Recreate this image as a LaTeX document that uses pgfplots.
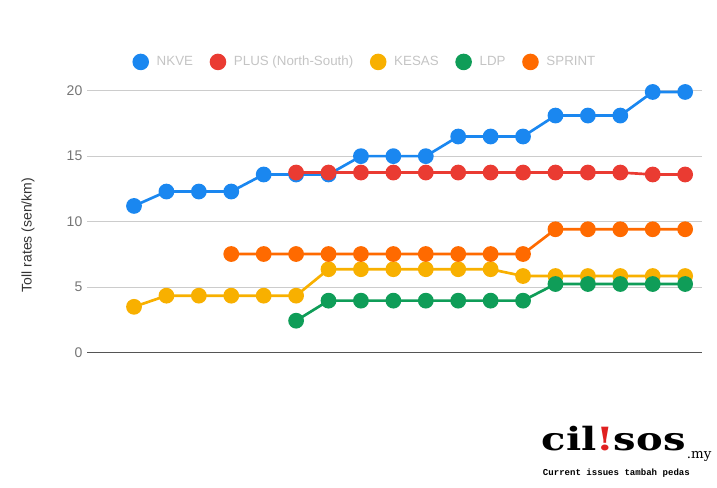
\documentclass[border=0pt]{standalone}
\usepackage{fontspec}
\setmainfont{Liberation Sans}
\newfontfamily\logofont{DejaVu Serif}
\newfontfamily\tagfont{Liberation Mono}
\usepackage{pgfplots}
\pgfplotsset{compat=1.18}
\definecolor{cBlue}{HTML}{1A87F0}
\definecolor{cRed}{HTML}{EA3B32}
\definecolor{cYellow}{HTML}{F8B000}
\definecolor{cGreen}{HTML}{0F9D58}
\definecolor{cOrange}{HTML}{FF6A00}
\definecolor{gridc}{HTML}{CCCCCC}
\definecolor{zeroc}{HTML}{555555}
\definecolor{tickc}{HTML}{757575}
\definecolor{labelc}{HTML}{333333}
\definecolor{legc}{HTML}{C4C4C4}
\definecolor{logoRed}{HTML}{E02020}
\begin{document}
\begin{tikzpicture}
\path[use as bounding box] (0,0) rectangle (537.75pt,366pt);
\begin{axis}[
  at={(65.25pt,101.5pt)}, anchor=south west,
  scale only axis, width=461.25pt, height=196.5pt,
  xmin=-1.45, xmax=17.52, ymin=0, ymax=20,
  clip=false,
  axis line style={draw=none},
  xtick=\empty,
  ytick={5,10,15,20},
  extra y ticks={0},
  extra y tick style={grid style={color=zeroc, line width=1pt}},
  ymajorgrids, grid style={color=gridc, line width=0.8pt},
  major tick length=0pt,
  tick label style={font=\fontsize{10.5}{12}\selectfont, text=tickc},
  /pgf/number format/assume math mode=true,
  ylabel={Toll rates (sen/km)},
  ylabel style={at={(axis description cs:-0.096,0.449)}, anchor=center, font=\fontsize{10.5}{12}\selectfont, text=labelc},
  every axis plot/.append style={line width=2pt, mark=*, mark size=4.9pt},
  legend columns=-1,
  legend style={at={(axis description cs:0.0735,1.1096)}, anchor=west, draw=none, fill=none,
    font=\fontsize{10}{12}\selectfont, text=legc, inner xsep=0pt,
    /tikz/every even column/.append style={column sep=10.5pt}},
  legend image code/.code={\fill[#1] (3pt,0pt) circle (5.2pt); \path (12pt,0pt);},
]
\addplot[color=cBlue] coordinates {(0,11.2)(1,12.3)(2,12.3)(3,12.3)(4,13.6)(5,13.6)(6,13.6)(7,15)(8,15)(9,15)(10,16.5)(11,16.5)(12,16.5)(13,18.1)(14,18.1)(15,18.1)(16,19.9)(17,19.9)};
\addlegendentry{NKVE}
\addplot[color=cRed] coordinates {(5,13.75)(6,13.75)(7,13.75)(8,13.75)(9,13.75)(10,13.75)(11,13.75)(12,13.75)(13,13.75)(14,13.75)(15,13.75)(16,13.6)(17,13.6)};
\addlegendentry{PLUS (North-South)}
\addplot[color=cYellow] coordinates {(0,3.5)(1,4.35)(2,4.35)(3,4.35)(4,4.35)(5,4.35)(6,6.37)(7,6.37)(8,6.37)(9,6.37)(10,6.37)(11,6.37)(12,5.85)(13,5.85)(14,5.85)(15,5.85)(16,5.85)(17,5.85)};
\addlegendentry{KESAS}
\addplot[color=cGreen] coordinates {(5,2.44)(6,3.97)(7,3.97)(8,3.97)(9,3.97)(10,3.97)(11,3.97)(12,3.97)(13,5.24)(14,5.24)(15,5.24)(16,5.24)(17,5.24)};
\addlegendentry{LDP}
\addplot[color=cOrange] coordinates {(3,7.53)(4,7.53)(5,7.53)(6,7.53)(7,7.53)(8,7.53)(9,7.53)(10,7.53)(11,7.53)(12,7.53)(13,9.42)(14,9.42)(15,9.42)(16,9.42)(17,9.42)};
\addlegendentry{SPRINT}
\end{axis}
\node[anchor=base west, inner sep=0pt, xscale=1.25] at (406pt,27.75pt)
  {\logofont\bfseries\fontsize{24}{26}\selectfont cil\textcolor{logoRed}{!}sos};
\node[anchor=base west, inner sep=0pt] at (515pt,21.75pt)
  {\logofont\fontsize{10}{11}\selectfont .my};
\node[anchor=base west, inner sep=0pt] at (407pt,9.5pt)
  {\tagfont\bfseries\fontsize{6.8}{8}\selectfont Current issues tambah pedas};
\end{tikzpicture}
\end{document}
